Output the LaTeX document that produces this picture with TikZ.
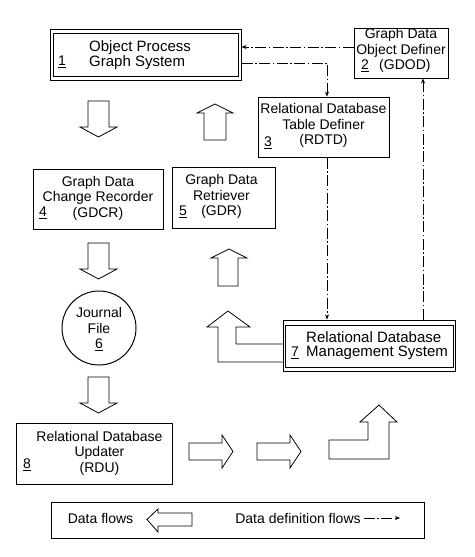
\documentclass[tikz,border=0pt]{standalone}
\usepackage{fontspec}
\setmainfont{Liberation Sans}
\usetikzlibrary{arrows.meta}

\tikzset{
  box/.style={draw,line width=1pt,inner sep=0pt},
  txt/.style={inner sep=0pt,align=center,font=\fontsize{14}{15.5}\selectfont},
  bigtxt/.style={inner sep=0pt,align=left,anchor=west,font=\fontsize{15}{14.5}\selectfont},
  num/.style={inner sep=0pt,font=\fontsize{14}{15}\selectfont},
  defflow/.style={line width=0.9pt,dash pattern=on 11pt off 2.5pt on 1.5pt off 2.5pt,-{Stealth[length=5pt,width=4pt]}},
  dataflow/.style={line width=0.8pt,line join=miter}
}

\begin{document}
\begin{tikzpicture}[x=1pt,y=-1pt]
\useasboundingbox (0,0) rectangle (474,557);

% boxes
\node[box,minimum width=191pt,minimum height=51pt] (ops) at (145.5,54.5) {};
\draw[line width=1pt] ([shift={(4,5)}]ops.north west) rectangle ([shift={(-3,-4)}]ops.south east);
\node[bigtxt] (opstext) at (89,55) {Object Process\\Graph System};
\node[num] (n1) at (62,62) {\underline{1}};

\node[box,minimum width=94pt,minimum height=50pt] (gdod) at (401,53) {};
\node[txt] (gdodtext) at (401,50.5) {Graph Data\\Object Definer\\\phantom{2}(GDOD)};
\node[num] (n2) at (365,66) {\underline{2}};

\node[box,minimum width=131pt,minimum height=60pt] (rdtd) at (323.5,127) {};
\node[txt] (rdtdtext) at (323.5,125.5) {Relational Database\\Table Definer\\(RDTD)};
\node[num] (n3) at (268,143) {\underline{3}};

\node[box,minimum width=130pt,minimum height=60pt] (gdcr) at (98,199) {};
\node[txt] (gdcrtext) at (98,198) {Graph Data\\Change Recorder\\(GDCR)};
\node[num] (n4) at (43,213) {\underline{4}};

\node[box,minimum width=103pt,minimum height=61pt] (gdr) at (223.5,197.5) {};
\node[txt] (gdrtext) at (221.5,196.5) {Graph Data\\Retriever\\(GDR)};
\node[num] (n5) at (183,212) {\underline{5}};

\node[box,circle,minimum size=74pt] (jf) at (99,328) {};
\node[txt] (jftext) at (99,329) {Journal\\File\\\underline{6}};

\node[box,minimum width=172pt,minimum height=51pt] (rdbms) at (369,345.5) {};
\draw[line width=1pt] ([shift={(3,6)}]rdbms.north west) rectangle ([shift={(-2,-4)}]rdbms.south east);
\node[bigtxt] (rdbmstext) at (306,345.5) {Relational Database\\Management System};
\node[num] (n7) at (295,353) {\underline{7}};

\node[box,minimum width=156pt,minimum height=61pt] (rdu) at (94,453.5) {};
\node[txt] (rdutext) at (99.5,453) {Relational Database\\Updater\\(RDU)};
\node[num] (n8) at (27,465) {\underline{8}};

% data definition flows
\draw[defflow] ([yshift=6pt]gdod.west) -- ([yshift=6pt]gdod.west -| ops.east);
\draw[defflow] ([yshift=-8.5pt]ops.east) -| ([xshift=3.5pt]rdtd.north);
\draw[defflow] ([xshift=3.5pt]rdtd.south) -- ([xshift=3.5pt]rdtd.south |- rdbms.north);
\draw[defflow] ([xshift=22pt]gdod.south |- rdbms.north) -- ([xshift=22pt]gdod.south);

% data flows
\foreach \t in {101,243,377}
  \draw[dataflow] (88,\t) -- (109,\t) -- (109,\t+26) -- (117,\t+26) -- (98.5,\t+36)
    -- (80,\t+26) -- (88,\t+26) -- cycle;
\draw[dataflow] (204,140) -- (204,113) -- (197,113) -- (215,104) -- (233,113)
  -- (226,113) -- (226,140) -- cycle;
\draw[dataflow] (218,286) -- (218,258) -- (211,258) -- (229,249) -- (247,258)
  -- (238,258) -- (238,286) -- cycle;
\draw[dataflow] (rdbms.west |- 0,344) -- (236,344) -- (236,327) -- (250,327)
  -- (228,311) -- (207,327) -- (218,327) -- (218,362) -- (rdbms.west |- 0,362);
\foreach \x in {189,257}
  \draw[dataflow] (\x,443) -- (\x+33,443) -- (\x+33,435) -- (\x+44,451.5)
    -- (\x+33,468) -- (\x+33,460) -- (\x,460) -- cycle;
\draw[dataflow] (329,459) -- (389,459) -- (389,422) -- (397,422) -- (379,405)
  -- (360,422) -- (368,422) -- (368,440) -- (329,440) -- cycle;

% legend
\node[box,minimum width=373pt,minimum height=36pt] (legend) at (237.5,520) {};
\node[txt] (dftext) at (100.5,518) {Data flows};
\draw[dataflow] (192,513) -- (158,513) -- (158,509) -- (147,519.5) -- (158,532)
  -- (158,526) -- (192,526) -- cycle;
\node[txt] (ddtext) at (298,518) {Data definition flows};
\coordinate (ddend) at (400,518);
\draw[defflow] ([xshift=3pt]ddtext.east) -- (ddend);

\end{tikzpicture}
\end{document}
